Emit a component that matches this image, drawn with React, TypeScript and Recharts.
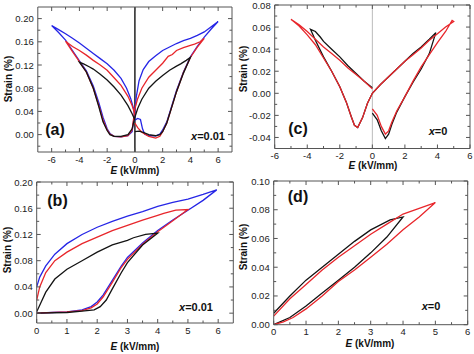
import React from 'react';
import { LineChart, Line, XAxis, YAxis, ReferenceLine } from 'recharts';

// strain loops, pairs of [E (kV/mm), strain (%)]
const aBlue = [
  [0, 0.025], [0.2, 0.028], [0.4, 0.026], [0.55, 0.01], [0.7, 0.001], [1.0, -0.002], [1.5, -0.002], [1.8, 0.001],
  [2.0, 0.008], [2.3, 0.022], [2.6, 0.045], [3.0, 0.076], [3.5, 0.108], [4.0, 0.134], [4.5, 0.152], [5.0, 0.168],
  [5.5, 0.182], [6.0, 0.195],
  [5.5, 0.186], [5.0, 0.177], [4.5, 0.171], [4.0, 0.166], [3.5, 0.162], [3.0, 0.157], [2.5, 0.151], [2.0, 0.145],
  [1.5, 0.136], [1.0, 0.126], [0.6, 0.112], [0.3, 0.093], [0.1, 0.065], [0, 0.04],
  [-0.2, 0.005], [-0.5, -0.002], [-1.0, -0.004], [-1.5, -0.003], [-1.8, 0.002], [-2.0, 0.01], [-2.3, 0.03],
  [-2.6, 0.055], [-3.0, 0.084], [-3.5, 0.11], [-4.0, 0.127], [-4.5, 0.145], [-5.0, 0.163], [-5.5, 0.176], [-6.0, 0.188],
  [-5.5, 0.181], [-5.0, 0.174], [-4.5, 0.166], [-4.0, 0.158], [-3.5, 0.149], [-3.0, 0.140], [-2.5, 0.131],
  [-2.0, 0.122], [-1.5, 0.111], [-1.0, 0.097], [-0.6, 0.08], [-0.3, 0.062], [-0.1, 0.045], [0, 0.028],
];
const aRed = [
  [0, 0.02], [0.2, 0.012], [0.5, 0.004], [1.0, -0.003], [1.5, -0.006], [1.8, -0.003], [2.0, 0.005], [2.3, 0.02],
  [2.6, 0.043], [3.0, 0.074], [3.5, 0.107], [4.0, 0.133], [4.5, 0.151], [5.0, 0.166],
  [4.7, 0.16], [4.3, 0.156], [4.0, 0.154], [3.5, 0.15], [3.0, 0.145], [2.7, 0.138], [2.4, 0.135], [2.0, 0.123],
  [1.5, 0.111], [1.0, 0.099], [0.5, 0.08], [0.2, 0.062], [0, 0.045],
  [-0.2, 0.008], [-0.5, -0.002], [-1.0, -0.004], [-1.5, -0.003], [-1.8, 0.001], [-2.0, 0.008], [-2.3, 0.025],
  [-2.6, 0.05], [-3.0, 0.08], [-3.5, 0.108], [-4.0, 0.126], [-4.5, 0.143], [-5.0, 0.161],
  [-4.5, 0.152], [-4.0, 0.145], [-3.5, 0.137], [-3.0, 0.128], [-2.5, 0.12], [-2.0, 0.111], [-1.5, 0.098],
  [-1.0, 0.085], [-0.5, 0.066], [-0.2, 0.05], [0, 0.035],
];
const aBlack = [
  [0, 0.005], [0.3, 0.006], [0.6, 0.004], [1.0, 0.0], [1.5, -0.002], [1.8, 0.0], [2.0, 0.005], [2.3, 0.02],
  [2.6, 0.043], [3.0, 0.074], [3.5, 0.106], [4.0, 0.133],
  [3.7, 0.128], [3.3, 0.122], [3.0, 0.118], [2.5, 0.111], [2.0, 0.102], [1.5, 0.092], [1.0, 0.08], [0.5, 0.061],
  [0.2, 0.045], [0, 0.03],
  [-0.2, 0.01], [-0.5, 0.0], [-1.0, -0.003], [-1.5, -0.003], [-1.8, 0.0], [-2.0, 0.007], [-2.3, 0.022],
  [-2.6, 0.048], [-3.0, 0.08], [-3.5, 0.108], [-4.0, 0.125],
  [-3.7, 0.122], [-3.3, 0.117], [-3.0, 0.113], [-2.5, 0.104], [-2.0, 0.094], [-1.5, 0.082], [-1.0, 0.068],
  [-0.5, 0.05], [-0.2, 0.036], [0, 0.025],
];

const bBlue = [
  [0, 0], [0.5, 0.001], [1, 0.002], [1.5, 0.005], [1.8, 0.01], [2.0, 0.017], [2.2, 0.028], [2.5, 0.05], [2.8, 0.072],
  [3.0, 0.085], [3.5, 0.107], [4.0, 0.126], [4.5, 0.142], [5.0, 0.157], [5.5, 0.172], [5.95, 0.188],
  [5.5, 0.181], [5.0, 0.174], [4.5, 0.169], [4.0, 0.163], [3.5, 0.155], [3.0, 0.148], [2.5, 0.14], [2.0, 0.131],
  [1.5, 0.12], [1.0, 0.106], [0.6, 0.09], [0.3, 0.072], [0.1, 0.055], [0, 0.04],
];
const bRed = [
  [0, 0], [1, 0.002], [1.5, 0.004], [1.8, 0.008], [2.0, 0.014], [2.2, 0.025], [2.5, 0.047], [2.8, 0.07], [3.0, 0.082],
  [3.5, 0.105], [4.0, 0.124], [4.5, 0.141], [5.0, 0.158],
  [4.6, 0.157], [4.2, 0.152], [4.0, 0.149], [3.5, 0.142], [3.0, 0.134], [2.5, 0.126], [2.0, 0.116], [1.5, 0.106],
  [1.0, 0.093], [0.6, 0.08], [0.3, 0.062], [0.1, 0.04], [0, 0.02],
];
const bBlack = [
  [0, 0], [1, 0.001], [1.5, 0.003], [1.9, 0.005], [2.1, 0.01], [2.3, 0.02], [2.5, 0.037], [2.8, 0.062], [3.0, 0.077],
  [3.5, 0.104], [4.0, 0.122],
  [3.6, 0.12], [3.2, 0.115], [3.0, 0.111], [2.5, 0.104], [2.0, 0.093], [1.5, 0.08], [1.0, 0.067], [0.6, 0.052],
  [0.3, 0.032], [0.1, 0.012], [0, 0.002],
];

const cRed = [
  [0, -0.014], [0.3, -0.02], [0.55, -0.03], [0.8, -0.037], [1.0, -0.034], [1.2, -0.026], [1.5, -0.016], [2.0, -0.003],
  [2.5, 0.011], [3.0, 0.024], [3.5, 0.035], [4.0, 0.046], [4.5, 0.056], [4.9, 0.066], [5.0, 0.065],
  [4.5, 0.06], [4.0, 0.054], [3.5, 0.048], [3.0, 0.041], [2.5, 0.035], [2.0, 0.029], [1.5, 0.022], [1.0, 0.015],
  [0.5, 0.008], [0, 0.0],
  [-0.3, -0.009], [-0.6, -0.022], [-0.9, -0.031], [-1.1, -0.029], [-1.3, -0.021], [-1.6, -0.008], [-2.0, 0.006],
  [-2.5, 0.02], [-3.0, 0.032], [-3.5, 0.044], [-4.0, 0.053], [-4.5, 0.061], [-5.0, 0.067],
  [-4.5, 0.062], [-4.0, 0.056], [-3.5, 0.049], [-3.0, 0.042], [-2.5, 0.036], [-2.0, 0.03], [-1.5, 0.023],
  [-1.0, 0.017], [-0.5, 0.011], [0, 0.004],
];
const cBlack = [
  [0, -0.018], [0.3, -0.024], [0.55, -0.034], [0.8, -0.041], [1.0, -0.037], [1.2, -0.028], [1.5, -0.017], [2.0, -0.003],
  [2.5, 0.01], [3.0, 0.022], [3.5, 0.036], [3.9, 0.055],
  [3.5, 0.049], [3.0, 0.042], [2.5, 0.036], [2.0, 0.029], [1.5, 0.022], [1.0, 0.015], [0.5, 0.008], [0, 0.0],
  [-0.3, -0.009], [-0.6, -0.022], [-0.9, -0.031], [-1.1, -0.029], [-1.3, -0.021], [-1.6, -0.008], [-2.0, 0.006],
  [-2.5, 0.02], [-3.0, 0.033], [-3.5, 0.048], [-3.8, 0.058],
  [-3.5, 0.056], [-3.2, 0.051], [-3.0, 0.047], [-2.5, 0.04], [-2.0, 0.033], [-1.5, 0.025], [-1.0, 0.018],
  [-0.5, 0.011], [0, 0.005],
];

const dRed = [
  [0, 0], [0.3, 0.002], [0.6, 0.005], [1.0, 0.011], [1.5, 0.02], [2.0, 0.03], [2.5, 0.038], [3.0, 0.047], [3.5, 0.056],
  [4.0, 0.066], [4.5, 0.075], [5.0, 0.085],
  [4.5, 0.081], [4.0, 0.077], [3.5, 0.07], [3.0, 0.063], [2.5, 0.055], [2.0, 0.047], [1.5, 0.038], [1.0, 0.028],
  [0.5, 0.018], [0, 0.006],
];
const dBlack = [
  [0, 0], [0.5, 0.005], [1.0, 0.013], [1.5, 0.022], [2.0, 0.031], [2.5, 0.04], [3.0, 0.05], [3.5, 0.061], [4.0, 0.075],
  [3.6, 0.073], [3.0, 0.066], [2.5, 0.058], [2.0, 0.049], [1.5, 0.04], [1.0, 0.031], [0.5, 0.02], [0, 0.008],
];

// ticks
const bipolarMajor = [-6, -4, -2, 0, 2, 4, 6];
const bipolarMinor = [-5, -3, -1, 1, 3, 5];
const unipolarMajor = [0, 1, 2, 3, 4, 5, 6];
const unipolarMinor = [0.5, 1.5, 2.5, 3.5, 4.5, 5.5];
const aYMajor = [0, 0.04, 0.08, 0.12, 0.16, 0.2];
const aYMinor = [-0.02, 0.02, 0.06, 0.1, 0.14, 0.18];
const bYMinor = [0.02, 0.06, 0.1, 0.14, 0.18];
const cYMajor = [-0.04, -0.02, 0, 0.02, 0.04, 0.06, 0.08];
const cYMinor = [-0.03, -0.01, 0.01, 0.03, 0.05, 0.07];
const dYMajor = [0, 0.02, 0.04, 0.06, 0.08, 0.1];
const dYMinor = [0.01, 0.03, 0.05, 0.07, 0.09];

const BLUE = '#2626e6';
const RED = '#e8262b';
const BLACK = '#141414';
const FRAME = '#555';
const FONT = '"Liberation Sans", Arial, sans-serif';

const toPts = (a: number[][]) => a.map(([e, s]) => ({ e, s }));

const fmtX = (v: number) => String(v);
const fmtY = (v: number) => v.toFixed(2);

// axis sizes; ticks are drawn by hand, pointing into the plot
const BOTTOM_H = 20;
const LEFT_W = 30;
const SIDE = 1;

function bottomTick(majors: number[]) {
  return (p: any) => {
    const { x, y, payload } = p;
    const major = majors.includes(payload.value);
    return (
      <g>
        <line x1={x} x2={x} y1={y} y2={y - (major ? 4 : 2.5)} stroke={FRAME} />
        {major && (
          <text x={x} y={y + 7} textAnchor="middle" dominantBaseline="central" fontSize={9.5} fill="#222" fontFamily={FONT}>
            {fmtX(payload.value)}
          </text>
        )}
      </g>
    );
  };
}
function topTick(majors: number[]) {
  return (p: any) => {
    const { x, y, payload } = p;
    const major = majors.includes(payload.value);
    return <line x1={x} x2={x} y1={y} y2={y + (major ? 4 : 2.5)} stroke={FRAME} />;
  };
}
function leftTick(majors: number[]) {
  return (p: any) => {
    const { x, y, payload } = p;
    const major = majors.includes(payload.value);
    return (
      <g>
        <line x1={x} x2={x + (major ? 4 : 2.5)} y1={y} y2={y} stroke={FRAME} />
        {major && (
          <text x={x - 4} y={y} textAnchor="end" dominantBaseline="central" fontSize={9.5} fill="#222" fontFamily={FONT}>
            {fmtY(payload.value)}
          </text>
        )}
      </g>
    );
  };
}
function rightTick(majors: number[]) {
  return (p: any) => {
    const { x, y, payload } = p;
    const major = majors.includes(payload.value);
    return <line x1={x} x2={x - (major ? 4 : 2.5)} y1={y} y2={y} stroke={FRAME} />;
  };
}

type Series = { data: number[][]; color: string };

interface PanelProps {
  left: number;
  top: number;
  plot: { top: number; right: number; bottom: number; left: number };
  xDomain: [number, number];
  yDomain: [number, number];
  xMajor: number[];
  xMinor: number[];
  yMajor: number[];
  yMinor: number[];
  series: Series[];
  zero?: string;
  zeroWidth?: number;
  tag: string;
  tagPos: [number, number];
  note: string;
  notePos: [number, number];
  yTitle: [number, number];
  xTitle: [number, number];
}

function Panel(p: PanelProps) {
  const xTicks = [...p.xMajor, ...p.xMinor].sort((a, b) => a - b);
  const yTicks = [...p.yMajor, ...p.yMinor].sort((a, b) => a - b);
  const margin = {
    top: p.plot.top - SIDE,
    right: p.plot.right - SIDE,
    bottom: p.plot.bottom - BOTTOM_H,
    left: p.plot.left - LEFT_W,
  };
  const txt = (x: number, y: number, extra: React.CSSProperties = {}) => ({
    position: 'absolute' as const,
    left: x,
    top: y,
    transform: 'translate(-50%, -50%)',
    fontFamily: FONT,
    fontWeight: 700,
    color: '#111',
    whiteSpace: 'nowrap' as const,
    lineHeight: 1,
    ...extra,
  });
  const axisCommon = {
    type: 'number' as const,
    allowDataOverflow: true,
    interval: 0 as const,
    tickSize: 0,
    tickMargin: 0,
    tickLine: false,
    axisLine: { stroke: FRAME },
  };
  return (
    <div style={{ position: 'absolute', left: p.left, top: p.top, width: 237, height: 177, overflow: 'hidden' }}>
      <LineChart width={237} height={177} margin={margin}>
        <XAxis {...axisCommon} xAxisId="b" dataKey="e" domain={p.xDomain} ticks={xTicks} height={BOTTOM_H} tick={bottomTick(p.xMajor)} />
        <XAxis {...axisCommon} xAxisId="t" orientation="top" dataKey="e" domain={p.xDomain} ticks={xTicks} height={SIDE} tick={topTick(p.xMajor)} />
        <YAxis {...axisCommon} yAxisId="l" dataKey="s" domain={p.yDomain} ticks={yTicks} width={LEFT_W} tick={leftTick(p.yMajor)} />
        <YAxis {...axisCommon} yAxisId="r" orientation="right" dataKey="s" domain={p.yDomain} ticks={yTicks} width={SIDE} tick={rightTick(p.yMajor)} />
        {p.zero && (
          <ReferenceLine xAxisId="b" yAxisId="l" x={0} stroke={p.zero} strokeWidth={p.zeroWidth ?? 1} />
        )}
        {p.series.map((s, i) => (
          <Line
            key={i}
            xAxisId="b"
            yAxisId="l"
            data={toPts(s.data)}
            dataKey="s"
            type="linear"
            dot={false}
            stroke={s.color}
            strokeWidth={1.3}
            isAnimationActive={false}
          />
        ))}
        {/* hidden companion so the top and right frame axes get a domain */}
        <Line xAxisId="t" yAxisId="r" data={toPts(p.series[0].data)} dataKey="s" stroke="none" dot={false} isAnimationActive={false} />
      </LineChart>
      <div style={txt(p.tagPos[0], p.tagPos[1], { fontSize: 16 })}>{p.tag}</div>
      <div style={txt(p.notePos[0], p.notePos[1], { fontSize: 11 })}>
        <i>x</i>={p.note}
      </div>
      <div style={txt(p.yTitle[0], p.yTitle[1], { fontSize: 10, transform: 'translate(-50%, -50%) rotate(-90deg)' })}>
        Strain (%)
      </div>
      <div style={txt(p.xTitle[0], p.xTitle[1], { fontSize: 10 })}>
        <i>E</i> (kV/mm)
      </div>
    </div>
  );
}

export default function App() {
  return (
    <div style={{ position: 'absolute', left: 0, top: 0, width: 474, height: 354, background: '#fff', overflow: 'hidden' }}>
      <Panel
        left={0}
        top={0}
        plot={{ top: 7, right: 5, bottom: 25, left: 37.8 }}
        xDomain={[-7, 7]}
        yDomain={[-0.03, 0.22]}
        xMajor={bipolarMajor}
        xMinor={bipolarMinor}
        yMajor={aYMajor}
        yMinor={aYMinor}
        series={[
          { data: aBlue, color: BLUE },
          { data: aRed, color: RED },
          { data: aBlack, color: BLACK },
        ]}
        zero="#222"
        zeroWidth={1.5}
        tag="(a)"
        tagPos={[55, 130]}
        note="0.01"
        notePos={[208, 135.5]}
        yTitle={[9, 79]}
        xTitle={[135, 171]}
      />
      <Panel
        left={237}
        top={0}
        plot={{ top: 5, right: 4, bottom: 28.5, left: 37.7 }}
        xDomain={[-6, 6]}
        yDomain={[-0.05, 0.08]}
        xMajor={bipolarMajor}
        xMinor={bipolarMinor}
        yMajor={cYMajor}
        yMinor={cYMinor}
        series={[
          { data: cBlack, color: BLACK },
          { data: cRed, color: RED },
        ]}
        zero="#bbb"
        zeroWidth={1}
        tag="(c)"
        tagPos={[61, 129]}
        note="0"
        notePos={[201, 131]}
        yTitle={[7, 69]}
        xTitle={[136, 166]}
      />
      <Panel
        left={0}
        top={177}
        plot={{ top: 5, right: 3.7, bottom: 31, left: 36.7 }}
        xDomain={[0, 6.5]}
        yDomain={[-0.015, 0.2]}
        xMajor={unipolarMajor}
        xMinor={unipolarMinor}
        yMajor={aYMajor}
        yMinor={bYMinor}
        series={[
          { data: bBlue, color: BLUE },
          { data: bRed, color: RED },
          { data: bBlack, color: BLACK },
        ]}
        tag="(b)"
        tagPos={[57.5, 24]}
        note="0.01"
        notePos={[196, 130]}
        yTitle={[8, 73]}
        xTitle={[135, 170]}
      />
      <Panel
        left={237}
        top={177}
        plot={{ top: 4, right: 6.3, bottom: 29.3, left: 36.7 }}
        xDomain={[0, 6]}
        yDomain={[0, 0.1]}
        xMajor={unipolarMajor}
        xMinor={unipolarMinor}
        yMajor={dYMajor}
        yMinor={dYMinor}
        series={[
          { data: dBlack, color: BLACK },
          { data: dRed, color: RED },
        ]}
        tag="(d)"
        tagPos={[61, 20]}
        note="0"
        notePos={[194, 129]}
        yTitle={[7, 70]}
        xTitle={[133, 167]}
      />
    </div>
  );
}
